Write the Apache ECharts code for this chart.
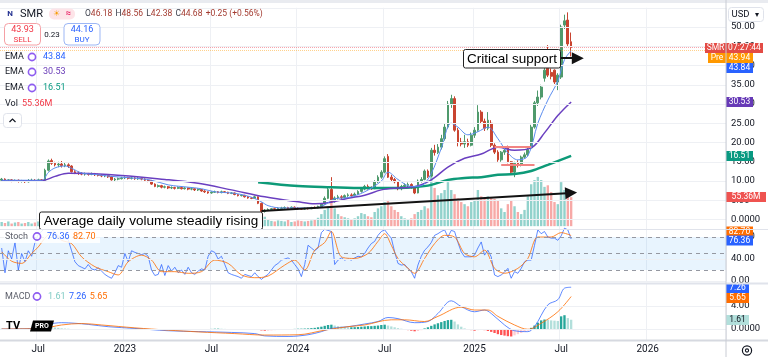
<!DOCTYPE html>
<html><head><meta charset="utf-8">
<script src="https://cdn.jsdelivr.net/npm/echarts@6/dist/echarts.min.js"></script>
<style>html,body{margin:0;padding:0;background:#fff}#c{width:768px;height:357px}</style>
</head><body><div id="c"></div>
<script>
// ---------- data ----------
const firstWeekUTC = Date.UTC(2022, 3, 18);   // first weekly bar (Mon)
const weekCount = 218;                       // visible weeks incl. empty future
const tickDates  = ['2022-07-04','2023-01-02','2023-07-03','2024-01-01','2024-07-01','2025-01-06','2025-07-07','2026-01-05'];
const tickLabels = ['Jul','2023','Jul','2024','Jul','2025','Jul','2026'];

// weekly [open, close, low, high]
const weeklyOHLC = [
[10.2,10.5,10.0,10.8],[10.5,10.1,9.9,10.7],[10.1,10.3,9.8,10.5],[10.3,10.0,9.7,10.5],[10.0,10.2,9.8,10.4],
[10.2,9.9,9.6,10.4],[9.9,10.0,9.6,10.3],[10.0,9.8,9.5,10.2],[9.8,10.1,9.6,10.5],[10.1,10.2,9.8,10.6],
[10.2,10.0,9.8,10.5],[10.0,10.3,9.9,10.6],[10.3,10.2,9.9,10.5],[10.2,12.8,10.1,13.2],[12.8,15.2,12.5,15.6],
[15.3,14.6,14.2,15.8],[14.6,14.2,13.8,15.0],[14.2,14.4,13.6,15.0],[14.4,14.0,13.5,15.2],[14.0,14.2,13.6,14.8],
[14.2,13.9,13.4,14.6],[13.9,12.4,12.2,14.1],[12.4,12.1,11.8,12.8],[12.1,12.0,11.6,12.5],[12.0,11.8,11.5,12.3],
[11.8,11.9,11.4,12.2],[11.9,11.7,11.4,12.1],[11.7,11.9,11.5,12.2],[11.9,11.6,11.3,12.1],[11.6,11.5,11.2,11.9],
[11.5,11.3,11.0,11.8],[11.3,11.4,11.0,11.7],[11.4,11.1,10.8,11.6],[11.1,10.3,10.1,11.2],[10.3,10.5,10.0,10.8],
[10.5,10.6,10.2,10.9],[10.6,10.8,10.4,11.1],[10.8,10.9,10.5,11.2],[10.9,10.7,10.4,11.1],[10.7,10.8,10.4,11.0],
[10.8,10.6,10.3,11.0],[10.6,10.7,10.3,11.0],[10.7,10.5,10.2,10.9],[10.5,10.2,9.9,10.7],[10.2,10.1,9.7,10.4],
[10.1,9.2,9.0,10.2],[9.2,8.6,8.4,9.4],[8.6,8.8,8.3,9.1],[8.8,8.4,8.1,9.0],[8.4,8.5,8.1,8.8],
[8.5,8.2,7.9,8.7],[8.2,8.3,7.9,8.6],[8.3,8.1,7.8,8.5],[8.1,8.3,7.9,8.6],[8.3,8.0,7.8,8.5],
[8.0,8.2,7.8,8.4],[8.2,7.9,7.6,8.3],[7.9,8.0,7.6,8.3],[8.0,7.7,7.4,8.1],[7.7,7.8,7.4,8.1],
[7.8,7.4,7.2,7.9],[7.4,7.2,6.9,7.6],[7.2,6.9,6.7,7.3],[6.9,7.1,6.7,7.3],[7.1,7.2,6.9,7.5],
[7.2,7.0,6.8,7.4],[7.0,7.2,6.8,7.5],[7.2,7.1,6.9,7.4],[7.1,6.8,6.6,7.2],[6.8,6.9,6.6,7.1],
[6.9,6.5,6.3,7.0],[6.5,6.2,6.0,6.6],[6.2,6.3,6.0,6.5],[6.3,5.9,5.7,6.4],[5.9,5.6,5.4,6.1],
[5.6,5.5,5.3,5.8],[5.5,5.9,5.4,6.2],[5.9,4.2,4.0,6.0],[4.2,2.1,1.9,4.4],[2.1,2.4,1.8,2.7],
[2.4,2.6,2.2,2.9],[2.6,2.8,2.4,3.0],[2.8,2.7,2.5,3.1],[2.7,2.9,2.5,3.2],[2.9,3.0,2.7,3.3],
[3.0,3.1,2.8,3.4],[3.1,2.9,2.7,3.3],[2.9,3.2,2.8,3.4],[3.2,3.0,2.8,3.4],[3.0,2.8,2.6,3.2],
[2.8,2.7,2.5,3.0],[2.7,2.9,2.5,3.1],[2.9,2.8,2.6,3.1],[2.8,3.1,2.7,3.3],[3.1,3.0,2.8,3.4],
[3.0,3.4,2.9,3.6],[3.4,4.0,3.3,4.3],[4.0,5.5,3.9,6.0],[5.5,7.8,5.3,8.3],[7.8,4.6,4.3,11.0],
[4.6,5.6,4.4,6.0],[5.6,5.9,5.2,6.4],[5.9,5.7,5.3,6.3],[5.7,6.2,5.5,6.5],[6.2,6.4,5.9,6.8],
[6.4,6.2,5.9,6.8],[6.2,6.6,6.0,7.0],[6.6,7.3,6.4,7.6],[7.3,7.9,7.0,8.3],[7.9,8.6,7.6,9.0],
[8.6,8.2,7.8,9.1],[8.2,8.0,7.7,8.6],[8.0,9.8,7.9,10.2],[9.8,11.0,9.5,11.5],[11.0,12.3,10.6,12.8],
[12.3,15.8,12.0,16.4],[16.4,11.0,10.8,17.0],[11.0,10.4,9.8,11.6],[10.4,9.8,9.4,10.8],[9.8,8.0,7.6,10.0],
[8.0,8.6,7.6,9.0],[8.6,8.9,8.2,9.4],[8.9,9.1,8.4,9.6],[9.1,8.4,8.0,9.4],[8.4,6.9,6.6,8.6],
[6.9,10.0,6.8,10.4],[10.0,10.4,9.6,11.0],[10.4,12.6,10.2,13.0],[12.6,11.2,10.8,13.0],[11.3,18.0,11.0,18.6],
[18.0,17.4,16.6,19.4],[17.4,18.8,17.0,19.6],[18.8,21.0,18.2,22.0],[21.0,24.0,20.5,24.8],[24.0,30.0,23.6,30.8],
[30.0,31.4,29.0,32.4],[31.4,23.2,22.8,32.0],[23.2,20.1,19.0,23.8],[20.1,19.6,19.0,21.2],[19.6,20.2,18.6,22.0],
[20.2,19.3,18.8,21.0],[19.3,21.9,19.0,22.6],[21.9,23.2,21.2,24.0],[23.2,27.9,22.8,29.7],[27.9,25.5,24.8,28.4],
[25.5,23.7,23.0,26.2],[23.7,25.8,23.2,27.9],[25.0,19.3,18.8,25.8],[19.3,17.5,17.0,19.8],[17.5,15.5,15.0,18.0],
[15.5,17.5,15.0,17.8],[17.5,18.0,16.8,18.8],[18.8,15.0,14.6,19.2],[15.0,12.3,12.0,15.2],[12.3,14.6,11.0,15.0],
[14.6,14.0,13.5,15.4],[14.2,16.2,13.8,16.6],[16.2,16.8,15.8,17.4],[16.8,18.2,16.5,18.8],[18.6,24.0,18.3,24.6],
[24.0,30.3,23.6,30.8],[30.3,31.8,29.5,33.5],[31.8,34.4,31.2,35.0],[36.7,38.8,35.8,40.2],[39.3,37.5,37.0,45.3],
[38.2,37.2,36.4,39.2],[38.8,35.7,35.2,39.0],[35.7,37.5,33.6,38.0],[37.0,50.0,36.5,50.6],[50.5,51.6,49.5,53.2],
[51.8,45.6,45.0,53.8],[46.18,44.68,42.38,48.56]
];

// weekly volume, millions
const volumeM = [
8,6,9,5,7,8,5,6,8,5,7,9,
10,22,16,10,8,7,6,7,7,
9,7,6,6,5,5,6,5,5,5,5,6,8,6,5,5,5,5,5,5,
5,5,6,6,9,8,6,6,5,5,5,5,5,5,5,6,5,5,6,6,
6,7,8,6,6,6,6,7,6,6,7,7,7,7,7,9,14,
24,18,12,10,9,11,10,9,12,8,9,11,10,9,10,11,12,16,
23,31,38,50,34,23,19,17,15,13,15,19,25,23,19,17,
27,34,38,46,50,38,31,27,19,15,13,15,23,27,31,38,34,
111,73,59,63,69,84,69,61,53,46,42,38,46,50,69,57,53,57,55,52,48,
34,27,42,50,38,27,23,31,57,80,88,94,88,75,78,65,46,42,84,69,59,55.36
];

// EMA readings [weekIndex, value]
const emaFast = [[0,10.2],[12,10.2],[14,12.2],[16,13.4],[19,13.9],[21,13.3],[24,12.1],[28,11.7],[33,11.2],[39,10.8],[45,10.2],[50,9.0],[56,8.4],[60,8.0],[64,7.2],[70,6.8],[75,5.8],[78,4.6],[80,3.6],[84,3.0],[89,3.0],[94,3.0],[97,3.8],[100,5.4],[104,5.7],[109,7.2],[114,10.0],[116,12.3],[119,10.4],[123,8.6],[126,8.8],[129,12.0],[132,18.5],[135,25.0],[137,24.0],[140,22.0],[143,22.8],[146,24.0],[149,21.0],[152,17.3],[155,15.5],[158,16.5],[161,25.0],[164,31.0],[167,36.0],[169,41.5],[171,43.84]];
const emaMid = [[0,10.1],[12,10.1],[16,11.2],[20,12.0],[32,11.7],[49,10.4],[59,9.4],[69,7.7],[79,5.9],[89,4.6],[94,4.1],[99,4.5],[104,5.5],[109,6.3],[114,7.7],[119,8.2],[124,8.5],[129,10.3],[134,13.6],[139,15.9],[144,17.0],[149,18.8],[154,18.0],[159,18.6],[163,22.5],[167,27.0],[171,30.53]];
const emaSlow = [[77,9.7],[89,8.7],[99,8.4],[109,8.2],[119,8.2],[124,8.4],[129,9.0],[134,10.3],[139,10.8],[144,11.0],[149,11.6],[154,11.8],[159,12.6],[164,14.2],[171,16.51]];

// Stochastic %K (weekly) and %D readings
const stochK = [
60,15,55,40,70,20,50,35,55,45,70,85,90,
97,98,95,88,82,80,78,75,
55,35,28,25,22,30,22,20,24,18,
12,8,5,15,28,25,50,35,55,52,
50,48,50,45,20,10,12,30,10,28,
18,25,15,20,12,25,15,12,18,22,
20,45,55,52,40,45,30,15,12,10,
8,5,12,10,8,15,8,3,8,12,
20,28,32,38,40,42,38,30,22,8,
30,65,60,55,60,88,94,92,90,30,
38,42,38,40,38,42,45,44,50,60,68,72,
83,90,93,85,78,53,32,29,30,23,17,5,
29,45,56,62,70,83,86,90,93,80,92,90,
70,53,44,44,44,47,60,71,47,56,44,11,
8,11,16,23,5,17,14,23,35,38,38,65,
93,86,90,80,78,78,74,82,96,93,76.36
];
const stochD = [[0,53],[3,36],[6,32],[9,50],[11,62],[13,78],[15,88],[18,74],[21,68],[24,44],[28,26],[32,17],[35,11],[38,35],[42,47],[45,38],[48,17],[52,17],[56,14],[60,17],[64,38],[68,32],[72,11],[76,6],[80,9],[85,29],[88,38],[91,20],[94,56],[97,70],[99,90],[102,44],[106,41],[110,50],[113,72],[115,86],[117,65],[119,41],[122,23],[124,14],[127,41],[130,68],[133,83],[136,80],[139,50],[142,44],[145,56],[148,23],[151,14],[155,23],[158,41],[161,80],[165,80],[168,88],[171,82.7]];

// MACD readings
const macdLine = [[0,0.0],[10,0.1],[14,0.8],[18,1.1],[22,1.0],[26,0.8],[32,0.4],[40,0.1],[50,-0.3],[59,-0.45],[69,-0.6],[76,-0.8],[79,-1.2],[86,-1.3],[92,-1.0],[96,-0.46],[99,0.1],[104,0.4],[109,0.87],[113,1.3],[116,2.0],[119,1.8],[124,1.1],[128,1.3],[131,2.7],[135,4.9],[138,3.9],[142,3.0],[145,3.3],[147,2.7],[151,0.7],[154,-0.3],[158,-0.46],[160,0.4],[164,4.2],[167,5.1],[169,7.1],[171,7.26]];
const macdSignal = [[0,0.0],[12,0.1],[18,0.7],[24,0.95],[30,0.7],[40,0.2],[50,-0.2],[59,-0.5],[70,-0.8],[79,-1.05],[89,-1.0],[97,-0.2],[104,0.4],[109,0.7],[117,1.6],[121,1.6],[127,1.3],[131,2.2],[138,3.8],[142,3.3],[146,3.3],[149,2.2],[154,0.7],[158,-0.05],[162,1.0],[167,3.0],[171,5.65]];
const macdHist = [
0.02,-0.02,0.03,-0.02,0.02,-0.03,0.02,-0.02,0.02,0.03,0.02,0.05,
0.1,0.35,0.4,0.35,0.25,0.2,0.12,0.08,0.05,
-0.05,-0.12,-0.15,-0.15,-0.14,-0.12,-0.1,-0.1,-0.08,-0.08,-0.06,-0.06,
-0.1,-0.08,-0.05,-0.03,-0.02,0.01,0.02,0.03,0.02,0.01,-0.02,-0.04,
-0.1,-0.14,-0.12,-0.1,-0.08,-0.06,-0.05,-0.04,-0.04,-0.03,-0.03,-0.02,-0.03,-0.04,
-0.05,-0.06,-0.05,-0.03,0.02,0.05,0.06,0.05,0.02,-0.02,-0.05,-0.08,-0.1,-0.1,-0.12,-0.12,-0.1,-0.08,
-0.15,-0.25,-0.3,-0.28,-0.24,-0.2,-0.16,-0.12,-0.08,-0.05,-0.02,0.02,0.05,
0.06,0.08,0.1,0.15,0.2,0.3,0.4,0.55,0.7,0.75,0.6,
0.5,0.42,0.35,0.3,0.3,0.32,0.35,0.4,
0.45,0.5,0.5,0.55,0.6,0.7,0.75,
0.6,0.45,0.3,0.15,0.05,
-0.1,-0.2,-0.3,-0.4,-0.35,-0.2,
0.1,0.3,0.55,0.8,1.0,1.2,1.4,1.55,1.6,1.3,
0.8,0.4,0.1,
-0.15,-0.2,-0.3,-0.2,-0.1,
-0.2,-0.35,-0.5,-0.7,-0.9,-1.05,-1.15,-1.25,-1.3,
-1.1,-0.9,-0.7,-0.5,-0.3,
0.2,0.6,1.1,1.5,1.65,
1.6,1.5,1.45,1.4,
2.2,2.4,1.9,1.61
];

const lastPrice = 44.68, prePrice = 43.94;
const supportLines = [[148,159,19.0],[150,160,14.3]];

// ---------- chart ----------
const FONT = 'Roboto, "Liberation Sans", Arial, sans-serif';
const categories = [];
for (let k = 0; k < weekCount; k++) categories.push(new Date(firstWeekUTC + k * 7 * 864e5).toISOString().slice(0, 10));
const tickMap = {};
tickDates.forEach((d, i) => tickMap[d] = tickLabels[i]);
const isTick = (idx, val) => tickMap[val] !== undefined;

const UP = '#4f9a6c', DOWN = '#c94430';
const GRIDC = '#eef0f4';

function xAx(gi, showLabel) {
  return {
    type: 'category', gridIndex: gi, data: categories, boundaryGap: true,
    axisLine: {show: false}, axisTick: {show: false},
    axisLabel: {show: showLabel, interval: isTick, formatter: v => tickMap[v] || '', color: '#131722', fontSize: 10, fontFamily: FONT, margin: 4},
    splitLine: {show: true, interval: isTick, lineStyle: {color: GRIDC, width: 1}}
  };
}
const yLabel = (fmt) => ({show: true, color: '#131722', fontSize: 9.5, fontFamily: FONT, margin: 5, formatter: fmt, hideOverlap: false});

function gridLines(xi, yi, values) {
  return {type: 'line', xAxisIndex: xi, yAxisIndex: yi, data: [], silent: true, z: 0,
    markLine: {silent: true, symbol: 'none', animation: false, label: {show: false},
      lineStyle: {color: GRIDC, width: 1, type: 'solid'}, data: values.map(v => ({yAxis: v}))}};
}

const histColors = macdHist.map((h, i) => {
  const p = i > 0 ? macdHist[i - 1] : 0;
  if (h >= 0) return h >= p ? '#26a69a' : '#b2dfdb';
  return h <= p ? '#ff5252' : '#ffcdd2';
});

const option = {
  animation: false,
  backgroundColor: '#ffffff',
  textStyle: {fontFamily: FONT},
  grid: [
    {left: 0, right: 42, top: 7.75, height: 221.4},
    {left: 0, right: 42, top: 226, height: 55},
    {left: 0, right: 42, top: 283, height: 57.5}
  ],
  xAxis: [xAx(0, false), xAx(1, false), xAx(2, true)],
  yAxis: [
    {type: 'value', gridIndex: 0, position: 'right', min: -2.5, max: 55, interval: 2.5,
      axisLine: {show: false}, axisTick: {show: false}, splitLine: {show: false},
      axisLabel: yLabel(v => (v < 0 || v > 50 || Math.abs(v % 5) > 1e-6) ? '' : (v === 0 ? '0.0000' : v.toFixed(2)))},
    {type: 'value', gridIndex: 0, position: 'right', min: -5.7, max: 416.8, show: false, splitLine: {show: false}},
    {type: 'value', gridIndex: 1, position: 'right', min: 0, max: 100, interval: 20,
      axisLine: {show: false}, axisTick: {show: false}, splitLine: {show: false},
      axisLabel: yLabel(v => v === 0 ? '0.00' : (v === 40 ? '40.00' : (v === 80 ? '80.00' : '')))},
    {type: 'value', gridIndex: 2, position: 'right', min: -2, max: 8, interval: 2,
      axisLine: {show: false}, axisTick: {show: false}, splitLine: {show: false},
      axisLabel: yLabel(v => v === 0 ? '0.0000' : (v === 4 ? '4.00' : ''))}
  ],
  series: [
    gridLines(0, 0, [0,5,10,15,20,25,30,35,40,45,50,55]),
    gridLines(1, 2, [0, 40]),
    gridLines(2, 3, [0, 4]),
    {type: 'bar', name: 'Vol', xAxisIndex: 0, yAxisIndex: 1, data: volumeM, barWidth: '72%', z: 1,
      itemStyle: {color: p => weeklyOHLC[p.dataIndex][1] >= weeklyOHLC[p.dataIndex][0] ? '#92d2cc' : '#f7a9a7'}},
    {type: 'candlestick', name: 'SMR', xAxisIndex: 0, yAxisIndex: 0, data: weeklyOHLC, barWidth: '66%', z: 3,
      itemStyle: {color: UP, color0: DOWN, borderColor: UP, borderColor0: DOWN, borderWidth: 1},
      markLine: {silent: true, animation: false, label: {show: false}, symbol: 'none',
        data: [
          {yAxis: lastPrice, lineStyle: {color: '#f23645', type: 'dotted', width: 1, opacity: 0.45}},
          {yAxis: prePrice, lineStyle: {color: '#ff9800', type: 'dotted', width: 1, opacity: 0.45}},
          ...supportLines.map(s => [{coord: [s[0], s[2]], lineStyle: {color: '#f28482', width: 2, type: 'solid'}}, {coord: [s[1], s[2]]}]),
          [{coord: [78, 2.2], symbol: 'none', lineStyle: {color: '#131313', width: 2, type: 'solid'}}, {coord: [171, 6.9], symbol: 'triangle', symbolSize: [12, 12]}],
          [{coord: [167, 41.9], symbol: 'none', lineStyle: {color: '#131313', width: 2, type: 'solid'}}, {coord: [173, 41.9], symbol: 'triangle', symbolSize: [12, 12]}]
        ]}},
    {type: 'line', name: 'EMA slow', xAxisIndex: 0, yAxisIndex: 0, data: emaSlow, smooth: 0.35, symbol: 'none', z: 4,
      lineStyle: {color: '#0d9a78', width: 2.5}},
    {type: 'line', name: 'EMA mid', xAxisIndex: 0, yAxisIndex: 0, data: emaMid, smooth: 0.35, symbol: 'none', z: 4,
      lineStyle: {color: '#6a3fc0', width: 1.5}},
    {type: 'line', name: 'EMA fast', xAxisIndex: 0, yAxisIndex: 0, data: emaFast, smooth: 0.35, symbol: 'none', z: 4,
      lineStyle: {color: '#5b8def', width: 1}},
    {type: 'line', name: '%K', xAxisIndex: 1, yAxisIndex: 2, data: stochK, symbol: 'none', z: 3,
      lineStyle: {color: '#2962ff', width: 1, opacity: 0.75},
      markArea: {silent: true, itemStyle: {color: 'rgba(33,150,243,0.1)'}, data: [[{yAxis: 20}, {yAxis: 80}]]}},
    {type: 'line', name: '%D', xAxisIndex: 1, yAxisIndex: 2, data: stochD, smooth: 0.3, symbol: 'none', z: 3,
      lineStyle: {color: '#ff6d00', width: 1, opacity: 0.8},
      markLine: {silent: true, symbol: 'none', label: {show: false},
        lineStyle: {color: '#9598a1', type: [4, 4], width: 1}, data: [{yAxis: 80}, {yAxis: 50}, {yAxis: 20}]}},
    {type: 'bar', name: 'Hist', xAxisIndex: 2, yAxisIndex: 3, data: macdHist, barWidth: '70%', z: 2,
      itemStyle: {color: p => histColors[p.dataIndex]}},
    {type: 'line', name: 'MACD', xAxisIndex: 2, yAxisIndex: 3, data: macdLine, smooth: 0.35, symbol: 'none', z: 3,
      lineStyle: {color: '#2962ff', width: 1, opacity: 0.75}},
    {type: 'line', name: 'Signal', xAxisIndex: 2, yAxisIndex: 3, data: macdSignal, smooth: 0.35, symbol: 'none', z: 3,
      lineStyle: {color: '#ff6d00', width: 1, opacity: 0.8}}
  ],
  graphic: []
};

// ---------- overlay chrome ----------
const G = option.graphic;
function rect(x, y, w, h, fill, stroke, r, lw) {
  G.push({type: 'rect', silent: true, z: 100, shape: {x, y, width: w, height: h, r: r || 0},
    style: {fill: fill || 'none', stroke: stroke || null, lineWidth: lw || 1}});
}
function txt(x, y, text, color, size, align, weight, family) {
  G.push({type: 'text', silent: true, z: 101, x, y, style: {text, fill: color,
    font: (weight || 'normal') + ' ' + size + 'px ' + (family || FONT),
    align: align || 'left', verticalAlign: 'middle', textAlign: align || 'left', textVerticalAlign: 'middle'}});
}
function richTxt(x, y, text, rich) {
  G.push({type: 'text', silent: true, z: 101, x, y, style: {text, rich,
    align: 'left', verticalAlign: 'middle', textAlign: 'left', textVerticalAlign: 'middle'}});
}
function ring(cx, cy) {
  G.push({type: 'circle', silent: true, z: 101, shape: {cx, cy, r: 3.6}, style: {fill: 'none', stroke: '#8e5cf0', lineWidth: 1.6}});
}
function line(x1, y1, x2, y2, color, w) {
  G.push({type: 'line', silent: true, z: 102, shape: {x1, y1, x2, y2}, style: {stroke: color, lineWidth: w}});
}
const rs = (c, s) => ({fill: c, font: s + 'px ' + FONT});

// top strip
rect(0, 0, 768, 3, '#e9ebf0');
// header
txt(10, 14, 'N', '#283593', 8, 'center', 'bold');
txt(20, 14, 'SMR', '#131722', 11);
rect(49, 8.5, 26, 11, '#fde4e8', null, 5);
txt(56, 14, '☀', '#f59e0b', 8, 'center');
txt(68, 14, '≈', '#e91e63', 9, 'center', 'bold');
richTxt(85, 14, '{a|O}{b|46.18} {a|H}{b|48.56} {a|L}{b|42.38} {a|C}{b|44.68} {b|+0.25 (+0.56%)}',
  {a: rs('#3a3e4a', 8.5), b: rs('#a33b30', 8.5)});
rect(4.5, 23.5, 36, 21.5, '#fff', '#f5a0a5', 4);
txt(22.5, 30, '43.93', '#f23645', 9, 'center');
txt(22.5, 39.5, 'SELL', '#f23645', 8, 'center');
txt(52, 34.5, '0.23', '#131722', 8, 'center');
rect(64, 23.5, 36, 21.5, '#fff', '#9db7f5', 4);
txt(82, 30, '44.16', '#2962ff', 9, 'center');
txt(82, 39.5, 'BUY', '#2962ff', 8, 'center');
const legendRows = [['EMA','43.84','#2962ff',57],['EMA','30.53','#673ab7',72],['EMA','16.51','#089981',88]];
legendRows.forEach(r => { txt(5, r[3], r[0], '#131722', 9); ring(32, r[3]); txt(43, r[3], r[1], r[2], 9); });
txt(5, 104, 'Vol', '#131722', 9);
txt(22, 104, '55.36M', '#f23645', 9);
rect(3.5, 113.5, 18, 14, '#fff', '#e0e3eb', 3);
G.push({type: 'polyline', silent: true, z: 101, shape: {points: [[9.5, 122], [12.5, 119], [15.5, 122]]}, style: {stroke: '#131722', lineWidth: 1.2, fill: 'none'}});

// stoch legend
rect(0, 230, 100, 13, 'rgba(255,255,255,0.85)');
txt(5, 236.5, 'Stoch', '#5d606b', 9);
ring(37, 236.5);
richTxt(47, 236.5, '{b|76.36} {c|82.70}', {b: rs('#2962ff', 9), c: rs('#ff6d00', 9)});
// macd legend
rect(0, 290, 112, 13, 'rgba(255,255,255,0.85)');
txt(5, 296.5, 'MACD', '#5d606b', 9);
ring(37, 296.5);
richTxt(48, 296.5, '{a|1.61} {b|7.26} {c|5.65}', {a: rs('#80cbc4', 9), b: rs('#2962ff', 9), c: rs('#ff6d00', 9)});
// logo
txt(6, 326, 'TV', '#000', 11, 'left', 'bold');
G.push({type: 'polygon', silent: true, z: 101, shape: {points: [[33, 320.5], [54, 320.5], [51, 331.5], [30, 331.5]]}, style: {fill: '#000'}});
txt(42, 326.2, 'PRO', '#fff', 7, 'center', 'bold');

// right-axis tags
const tags = [
  ['SMR', 705, 48, 21, '#e34b45', '#fff'], ['07:27:44', 726, 48, 37, '#e34b45', '#fff'],
  ['Pre', 708, 58, 18, '#ff9800', '#fff'], ['43.94', 726, 58, 27, '#ff9800', '#fff'],
  ['43.84', 726, 68, 27, '#2962ff', '#fff'],
  ['30.53', 726, 102, 27, '#673ab7', '#fff'],
  ['16.51', 726, 156, 27, '#089981', '#fff'],
  ['55.36M', 726, 197, 40, '#ef5350', '#fff'],
  ['82.70', 726, 231.5, 27, '#ff6d00', '#fff'],
  ['76.36', 726, 240.5, 27, '#2962ff', '#fff'],
  ['7.26', 726, 288, 23, '#2962ff', '#fff'],
  ['5.65', 726, 298, 23, '#ff6d00', '#fff'],
  ['1.61', 726, 320, 23, '#b2dfdb', '#131722']
];
tags.forEach(t => { rect(t[1], t[2] - 5, t[3], 10, t[4]); txt(t[1] + t[3] / 2, t[2] + 0.3, t[0], t[5], 8.5, 'center'); });

// USD box & gear
rect(728.5, 7.5, 35, 14, '#fff', '#e0e3eb', 3);
txt(731.5, 14.5, 'USD', '#131722', 9.5);
txt(757, 14.5, '▾', '#131722', 8, 'center');
G.push({type: 'circle', silent: true, z: 101, shape: {cx: 747, cy: 350.5, r: 4.6}, style: {fill: 'none', stroke: '#131722', lineWidth: 1.2}});
G.push({type: 'circle', silent: true, z: 101, shape: {cx: 747, cy: 350.5, r: 1.6}, style: {fill: 'none', stroke: '#131722', lineWidth: 1.1}});

// pane separators
line(0, 229.5, 768, 229.5, '#e0e3eb', 1);
line(0, 283.5, 768, 283.5, '#e0e3eb', 2);
line(0, 340.5, 768, 340.5, '#d6d9e0', 2);
line(726, 0, 726, 357, '#c9ccd4', 1);

// annotation boxes
rect(39.5, 212, 223, 17.5, '#fff', '#222', 2);
txt(151, 221, 'Average daily volume steadily rising', '#000', 13.5, 'center', 'normal', '"Liberation Sans", Arial, sans-serif');
rect(463.5, 49.5, 97, 18.5, '#fff', '#222', 2);
txt(512, 59, 'Critical support', '#000', 13.5, 'center', 'normal', '"Liberation Sans", Arial, sans-serif');

const chart = echarts.init(document.getElementById('c'), null, {renderer: 'canvas', width: 768, height: 357});
chart.setOption(option);
</script>
</body></html>
